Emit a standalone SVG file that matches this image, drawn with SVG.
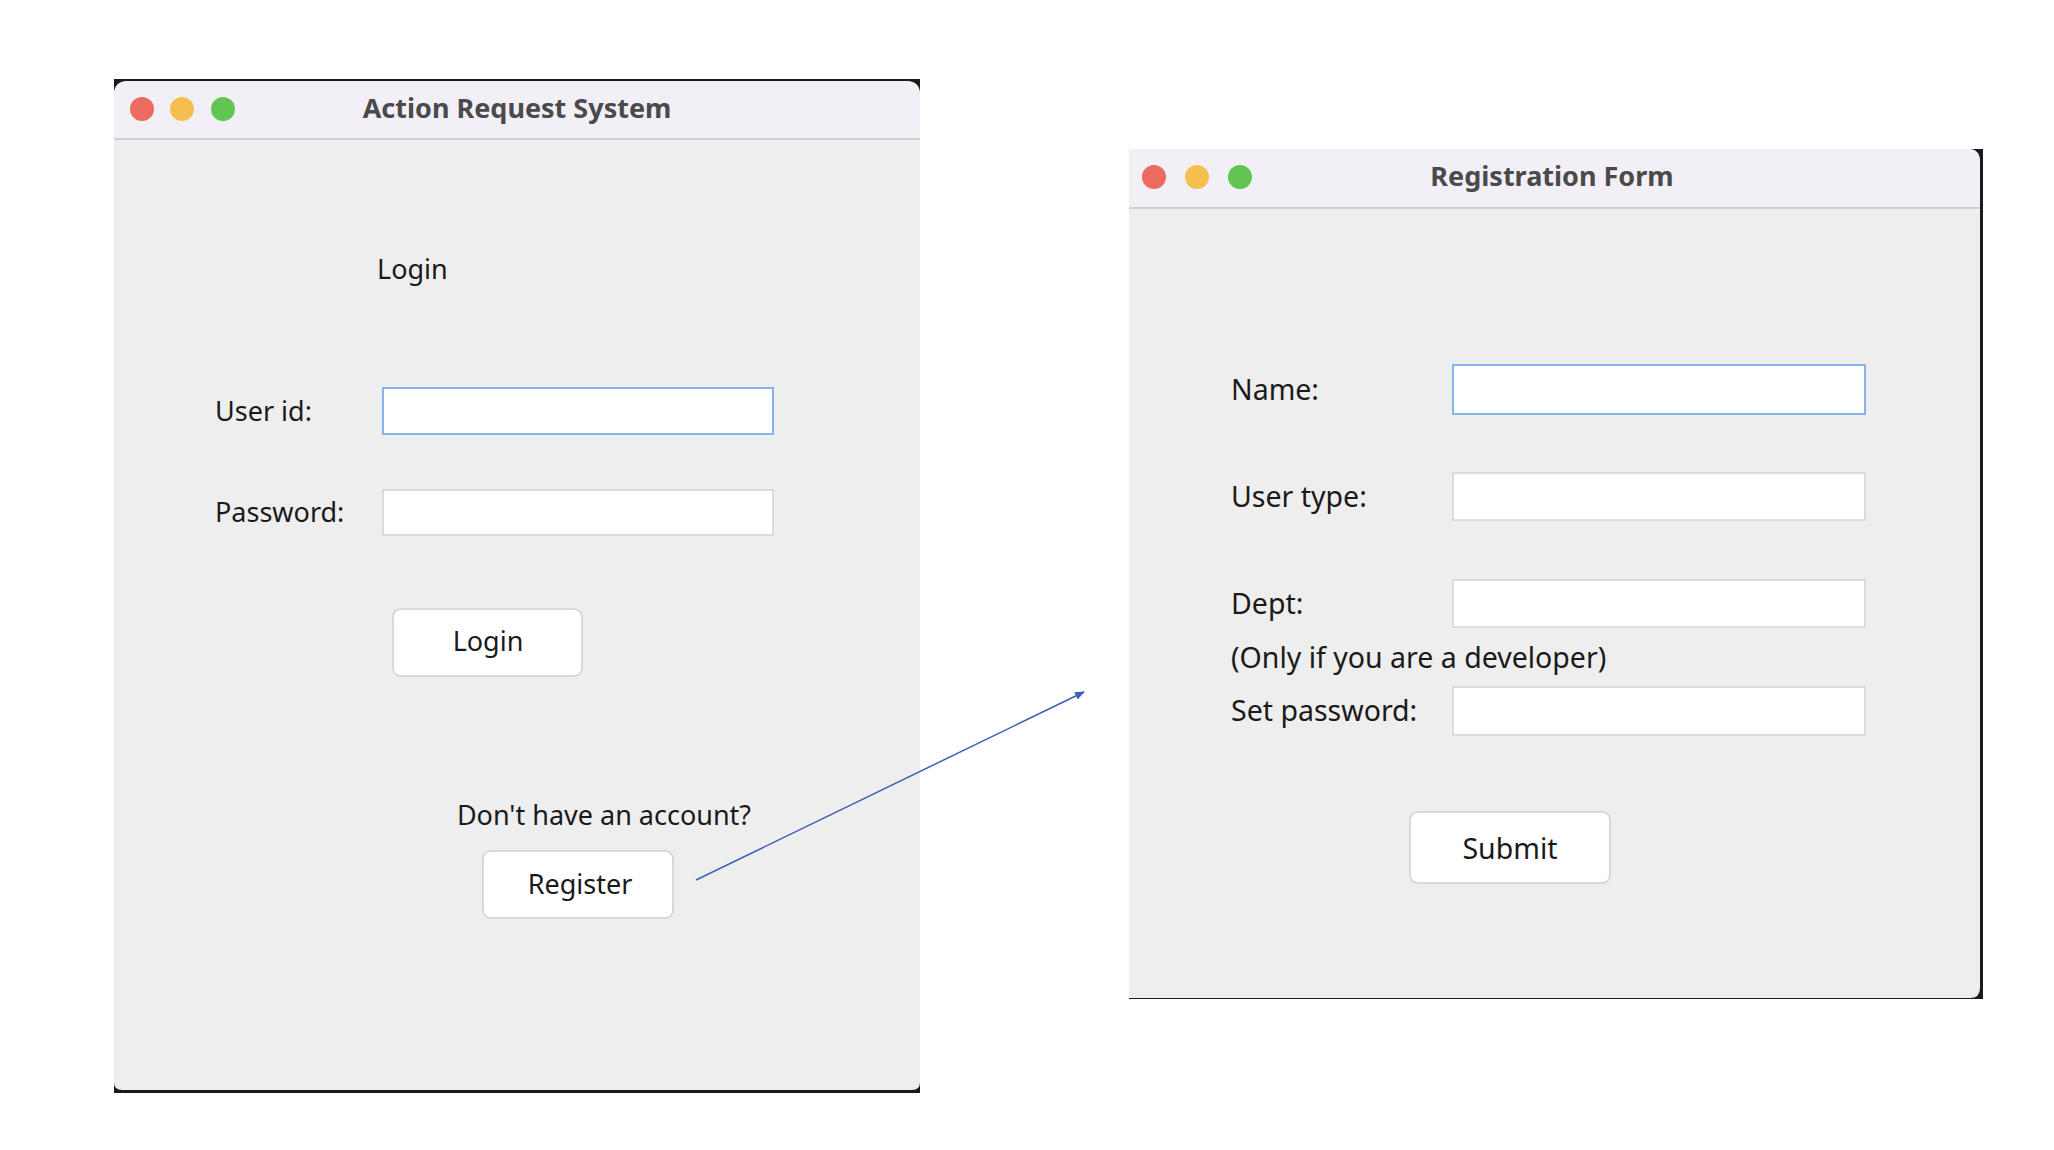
<svg xmlns="http://www.w3.org/2000/svg" width="2054" height="1150" viewBox="0 0 2054 1150">
<style>
text{font-family:"Noto Sans","Liberation Sans",sans-serif;fill:#1a1a1a}
.title{font-weight:bold;font-size:27px;fill:#4a4a4a;text-anchor:middle}
.lbl{font-size:27px}
.lbl2{font-size:28.5px}
.c{text-anchor:middle}
.win{fill:#eeeeee}
.bar{fill:#f3eff6}
.field{fill:#ffffff;stroke:#d4d4d4;stroke-width:1.5}
.focus{fill:#ffffff;stroke:#86b3ec;stroke-width:2}
.btn{fill:#ffffff;stroke:#d0d0d0;stroke-width:1.5}
.sep{stroke:#d0d0d0;stroke-width:2}
</style>
<defs>
<marker id="ah" markerWidth="10" markerHeight="10" refX="9" refY="5" orient="auto" markerUnits="userSpaceOnUse">
<path d="M0,1 L10,5 L0,9 z" fill="#3d5fb5"/>
</marker>
</defs>
<rect width="2054" height="1150" fill="#ffffff"/>
<g id="login-window">
<rect x="114" y="79" width="806" height="1014" fill="#1a1a1a"/>
<path d="M114,95 Q114,81 128,81 L906,81 Q920,81 920,95 L920,1082 Q920,1090 912,1090 L122,1090 Q114,1090 114,1082 Z" class="win"/>
<path d="M114,95 Q114,81 128,81 L906,81 Q920,81 920,95 L920,139 L114,139 Z" class="bar"/>
<line x1="114" y1="139" x2="920" y2="139" class="sep"/>
<circle cx="142" cy="109" r="12" fill="#ec6a5e"/>
<circle cx="182" cy="109" r="12" fill="#f4bf4f"/>
<circle cx="223" cy="109" r="12" fill="#61c554"/>
<text x="517" y="118" class="title">Action Request System</text>
<text x="377" y="279" class="lbl">Login</text>
<text x="215" y="421" class="lbl">User id:</text>
<rect x="383" y="388" width="390" height="46" class="focus"/>
<text x="215" y="522" class="lbl">Password:</text>
<rect x="383" y="490" width="390" height="45" class="field"/>
<rect x="393" y="609" width="189" height="67" rx="8" class="btn"/>
<text x="488" y="651" class="lbl c">Login</text>
<text x="604" y="825" class="lbl c">Don't have an account?</text>
<rect x="483" y="851" width="190" height="67" rx="8" class="btn"/>
<text x="580" y="894" class="lbl c">Register</text>
</g>
<g id="register-window">
<rect x="1129" y="149" width="854" height="850" fill="#1a1a1a"/>
<path d="M1129,149 L1968,149 Q1980,149 1980,162 L1980,988 Q1980,998 1970,998 L1129,998 Z" class="win"/>
<path d="M1129,149 L1968,149 Q1980,149 1980,162 L1980,208 L1129,208 Z" class="bar"/>
<line x1="1129" y1="208" x2="1980" y2="208" class="sep"/>
<circle cx="1154" cy="177" r="12" fill="#ec6a5e"/>
<circle cx="1197" cy="177" r="12" fill="#f4bf4f"/>
<circle cx="1240" cy="177" r="12" fill="#61c554"/>
<text x="1552" y="186" class="title">Registration Form</text>
<text x="1231" y="400" class="lbl2">Name:</text>
<rect x="1453" y="365" width="412" height="49" class="focus"/>
<text x="1231" y="507" class="lbl2">User type:</text>
<rect x="1453" y="473" width="412" height="47" class="field"/>
<text x="1231" y="614" class="lbl2">Dept:</text>
<rect x="1453" y="580" width="412" height="47" class="field"/>
<text x="1231" y="668" class="lbl2">(Only if you are a developer)</text>
<text x="1231" y="721" class="lbl2">Set password:</text>
<rect x="1453" y="687" width="412" height="48" class="field"/>
<rect x="1410" y="812" width="200" height="71" rx="8" class="btn"/>
<text x="1510" y="859" class="lbl2 c">Submit</text>
</g>
<g id="connectors">
<line x1="696" y1="880" x2="1084" y2="692" stroke="#3d5fb5" stroke-width="1.5" marker-end="url(#ah)"/>
</g>
</svg>
